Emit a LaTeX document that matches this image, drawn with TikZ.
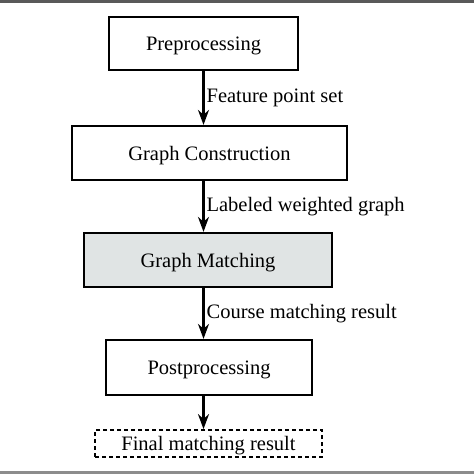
\documentclass[tikz,border=0pt]{standalone}
\usepackage{fontspec}
\setmainfont{Liberation Serif}
\usetikzlibrary{arrows.meta}
\definecolor{matchgray}{HTML}{E0E4E4}
\begin{document}
\begin{tikzpicture}[
    x=1pt, y=1pt,
    box/.style={draw, line width=2.2pt, inner sep=0pt, text depth=0pt, align=center, font=\fontsize{20.5}{24}\selectfont},
    flow/.style={-{Stealth[length=15pt, width=11pt]}, line width=2.2pt},
    lbl/.style={right, inner sep=2pt, font=\fontsize{20.5}{24}\selectfont}
]
\useasboundingbox (0,0) rectangle (474,-474);
\fill[black!65] (0,0) rectangle (474,-2.5);
\fill[black!45] (0,-471) rectangle (474,-474);

\node[box, minimum width=189pt, minimum height=53pt] (pre) at (203.5,-43.5) {Preprocessing};
\node[box, minimum width=275pt, minimum height=54pt] (cons) at (209.5,-153) {Graph Construction};
\node[box, fill=matchgray, minimum width=248pt, minimum height=54pt] (match) at (208,-260) {Graph Matching};
\node[box, minimum width=206pt, minimum height=55pt] (post) at (209,-367.5) {Postprocessing};
\node[box, line width=1.8pt, dash pattern=on 4pt off 3pt, minimum width=227pt, minimum height=27pt] (final) at (208.5,-443.5) {Final matching result};

\draw[flow] (pre.south) -- node[lbl] {Feature point set} (pre.south |- cons.north);
\draw[flow] (pre.south |- cons.south) -- node[lbl] {Labeled weighted graph} (pre.south |- match.north);
\draw[flow] (pre.south |- match.south) -- node[lbl] {Course matching result} (pre.south |- post.north);
\draw[flow] (pre.south |- post.south) -- (pre.south |- final.north);
\end{tikzpicture}
\end{document}
